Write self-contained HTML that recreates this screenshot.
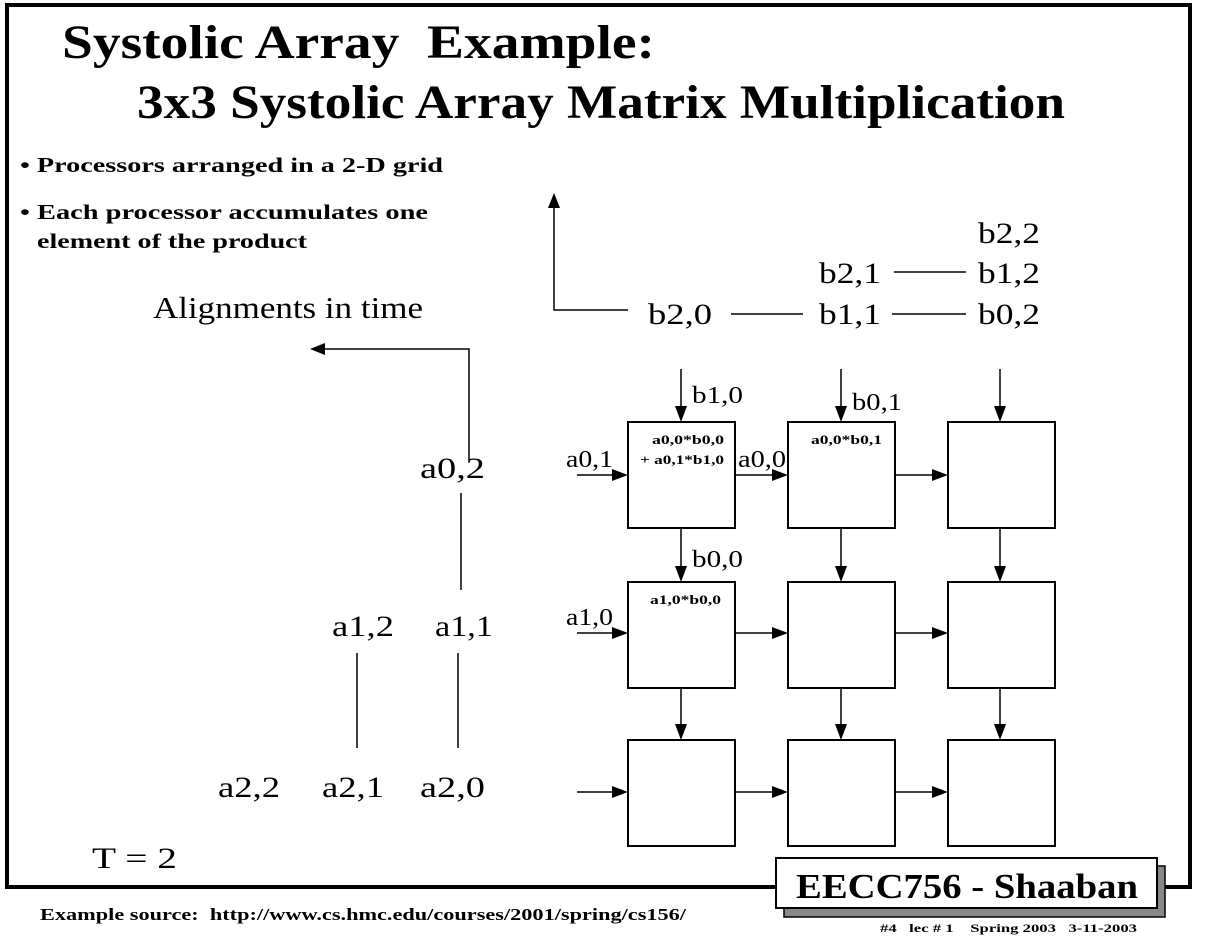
<!DOCTYPE html>
<html><head><meta charset="utf-8"><style>
html,body{margin:0;padding:0;background:#fff;}
svg{display:block;}
text{font-family:"Liberation Serif",serif;fill:#000;}
</style></head><body>
<svg width="1207" height="942" viewBox="0 0 1207 942" xmlns="http://www.w3.org/2000/svg">
<!-- frame -->
<path d="M7,889 L7,5 L1190,5 L1190,887 L1160,887" fill="none" stroke="#000" stroke-width="4"/>
<line x1="7" y1="887" x2="776" y2="887" stroke="#000" stroke-width="4"/>
<!-- badge -->
<rect x="784" y="866" width="381" height="51" fill="#888" stroke="#000" stroke-width="1.5"/>
<rect x="776" y="858" width="381" height="50" fill="#fff" stroke="#000" stroke-width="2"/>
<text x="796" y="898" font-size="35" font-weight="bold" textLength="342" lengthAdjust="spacingAndGlyphs">EECC756 - Shaaban</text>
<text x="880" y="932" font-size="12" font-weight="bold" xml:space="preserve" textLength="257" lengthAdjust="spacingAndGlyphs">#4   lec # 1    Spring 2003   3-11-2003</text>
<text x="40" y="920" font-size="17" font-weight="bold" xml:space="preserve" textLength="646" lengthAdjust="spacingAndGlyphs">Example source:  http://www.cs.hmc.edu/courses/2001/spring/cs156/</text>

<!-- titles -->
<text x="62" y="58" font-size="48" font-weight="bold" xml:space="preserve" textLength="593" lengthAdjust="spacingAndGlyphs">Systolic Array  Example:</text>
<text x="137" y="118" font-size="48" font-weight="bold" textLength="928" lengthAdjust="spacingAndGlyphs">3x3 Systolic Array Matrix Multiplication</text>
<text x="20" y="172" font-size="21" font-weight="bold" textLength="423" lengthAdjust="spacingAndGlyphs">• Processors arranged in a 2-D grid</text>
<text x="20" y="219" font-size="21" font-weight="bold" textLength="408" lengthAdjust="spacingAndGlyphs">• Each processor accumulates one</text>
<text x="37" y="248" font-size="21" font-weight="bold" textLength="270" lengthAdjust="spacingAndGlyphs">element of the product</text>
<text x="153" y="318" font-size="31" textLength="270" lengthAdjust="spacingAndGlyphs">Alignments in time</text>
<text x="92" y="868" font-size="30" textLength="85" lengthAdjust="spacingAndGlyphs">T = 2</text>

<!-- b matrix -->
<g font-size="30">
<text x="978" y="243" textLength="62" lengthAdjust="spacingAndGlyphs">b2,2</text>
<text x="819" y="283" textLength="62" lengthAdjust="spacingAndGlyphs">b2,1</text>
<text x="978" y="283" textLength="62" lengthAdjust="spacingAndGlyphs">b1,2</text>
<text x="648" y="324" textLength="64" lengthAdjust="spacingAndGlyphs">b2,0</text>
<text x="819" y="324" textLength="62" lengthAdjust="spacingAndGlyphs">b1,1</text>
<text x="978" y="324" textLength="62" lengthAdjust="spacingAndGlyphs">b0,2</text>
</g>
<g stroke="#000" stroke-width="1.5" fill="none">
<line x1="731" y1="314" x2="803" y2="314"/>
<line x1="892" y1="314" x2="966" y2="314"/>
<line x1="894" y1="272" x2="966" y2="272"/>
<polyline points="628,310 554,310 554,205"/>
</g>
<path d="M554,193 L548,208 L560,208 Z" fill="#000"/>

<!-- a matrix -->
<g font-size="30">
<text x="420" y="478" textLength="65" lengthAdjust="spacingAndGlyphs">a0,2</text>
<text x="332" y="636" textLength="62" lengthAdjust="spacingAndGlyphs">a1,2</text>
<text x="435" y="636" textLength="58" lengthAdjust="spacingAndGlyphs">a1,1</text>
<text x="218" y="797" textLength="62" lengthAdjust="spacingAndGlyphs">a2,2</text>
<text x="322" y="797" textLength="62" lengthAdjust="spacingAndGlyphs">a2,1</text>
<text x="420" y="797" textLength="65" lengthAdjust="spacingAndGlyphs">a2,0</text>
</g>
<g stroke="#000" stroke-width="1.5" fill="none">
<line x1="461" y1="493" x2="461" y2="590"/>
<line x1="357" y1="653" x2="357" y2="748"/>
<line x1="458" y1="653" x2="458" y2="748"/>
<polyline points="469,460 469,349 322,349"/>
</g>
<path d="M310,349 L325,343 L325,355 Z" fill="#000"/>

<!-- grid -->
<g stroke="#000" stroke-width="2" fill="#fff">
<rect x="628" y="422" width="107" height="106"/>
<rect x="788" y="422" width="107" height="106"/>
<rect x="948" y="422" width="107" height="106"/>
<rect x="628" y="582" width="107" height="106"/>
<rect x="788" y="582" width="107" height="106"/>
<rect x="948" y="582" width="107" height="106"/>
<rect x="628" y="740" width="107" height="106"/>
<rect x="788" y="740" width="107" height="106"/>
<rect x="948" y="740" width="107" height="106"/>
</g>
<g stroke="#000" stroke-width="1.5">
<line x1="681" y1="369" x2="681" y2="408"/><line x1="841" y1="369" x2="841" y2="408"/><line x1="1000" y1="369" x2="1000" y2="408"/>
<line x1="681" y1="528" x2="681" y2="568"/><line x1="841" y1="528" x2="841" y2="568"/><line x1="1000" y1="528" x2="1000" y2="568"/>
<line x1="681" y1="688" x2="681" y2="726"/><line x1="841" y1="688" x2="841" y2="726"/><line x1="1000" y1="688" x2="1000" y2="726"/>
<line x1="577" y1="475" x2="614" y2="475"/><line x1="735" y1="475" x2="774" y2="475"/><line x1="895" y1="475" x2="934" y2="475"/>
<line x1="577" y1="633" x2="614" y2="633"/><line x1="735" y1="633" x2="774" y2="633"/><line x1="895" y1="633" x2="934" y2="633"/>
<line x1="577" y1="792" x2="614" y2="792"/><line x1="735" y1="792" x2="774" y2="792"/><line x1="895" y1="792" x2="934" y2="792"/>
</g>
<g fill="#000">
<path d="M681,422 L675,406 L687,406Z"/><path d="M841,422 L835,406 L847,406Z"/><path d="M1000,422 L994,406 L1006,406Z"/>
<path d="M681,582 L675,566 L687,566Z"/><path d="M841,582 L835,566 L847,566Z"/><path d="M1000,582 L994,566 L1006,566Z"/>
<path d="M681,740 L675,724 L687,724Z"/><path d="M841,740 L835,724 L847,724Z"/><path d="M1000,740 L994,724 L1006,724Z"/>
<path d="M628,475 L612,469 L612,481Z"/><path d="M788,475 L772,469 L772,481Z"/><path d="M948,475 L932,469 L932,481Z"/>
<path d="M628,633 L612,627 L612,639Z"/><path d="M788,633 L772,627 L772,639Z"/><path d="M948,633 L932,627 L932,639Z"/>
<path d="M628,792 L612,786 L612,798Z"/><path d="M788,792 L772,786 L772,798Z"/><path d="M948,792 L932,786 L932,798Z"/>
</g>
<g font-size="24">
<text x="692" y="403" textLength="51" lengthAdjust="spacingAndGlyphs">b1,0</text>
<text x="852" y="410" textLength="50" lengthAdjust="spacingAndGlyphs">b0,1</text>
<text x="692" y="567" textLength="51" lengthAdjust="spacingAndGlyphs">b0,0</text>
<text x="566" y="467" textLength="47" lengthAdjust="spacingAndGlyphs">a0,1</text>
<text x="738" y="467" textLength="48" lengthAdjust="spacingAndGlyphs">a0,0</text>
<text x="566" y="625" textLength="47" lengthAdjust="spacingAndGlyphs">a1,0</text>
</g>
<g font-size="13" font-weight="bold">
<text x="652" y="444" textLength="72" lengthAdjust="spacingAndGlyphs">a0,0*b0,0</text>
<text x="640" y="464" textLength="84" lengthAdjust="spacingAndGlyphs">+ a0,1*b1,0</text>
<text x="811" y="444" textLength="71" lengthAdjust="spacingAndGlyphs">a0,0*b0,1</text>
<text x="650" y="604" textLength="71" lengthAdjust="spacingAndGlyphs">a1,0*b0,0</text>
</g>
</svg>
</body></html>
